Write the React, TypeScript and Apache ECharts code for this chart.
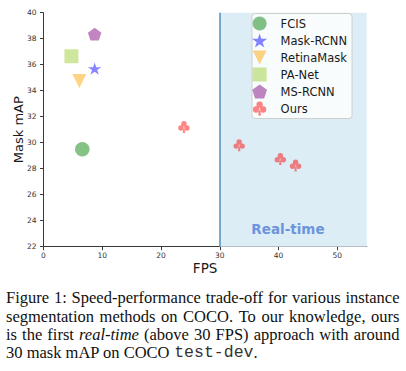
import React, { useEffect, useRef } from 'react';
import * as echarts from 'echarts';

// ---- data ----
const methods = ['FCIS', 'Mask-RCNN', 'RetinaMask', 'PA-Net', 'MS-RCNN', 'Ours'];
const fcisPoints = [[6.6, 29.5]];
const maskRcnnPoints = [[8.7, 35.7]];
const retinaMaskPoints = [[6.1, 34.75]];
const paNetPoints = [[4.75, 36.65]];
const msRcnnPoints = [[8.7, 38.35]];
const oursPoints = [[23.9, 31.2], [33.3, 29.8], [40.3, 28.75], [42.9, 28.25]];
const xTickValues = [0, 10, 20, 30, 40, 50];
const xRange = [0, 55];
const yRange = [22, 40];
const yInterval = 2;
const realTimeThreshold = 30;
const realTimeLabel = 'Real-time';
const realTimeLabelAt = [41.6, 23.4];
const xAxisName = 'FPS';
const yAxisName = 'Mask mAP';

const captionLine1 = ['Figure', '1:', 'Speed-performance', 'trade-off', 'for', 'various', 'instance'];
const captionLine2 = ['segmentation', 'methods', 'on', 'COCO.', 'To', 'our', 'knowledge,', 'ours'];
const captionLine3 = ['is', 'the', 'first', '_real-time', '(above', '30', 'FPS)', 'approach', 'with', 'around'];
const captionLine4 = ['30 mask mAP on COCO ', '`test-dev', '.'];

// ---- symbols ----
const clubPath =
  'path://M30 30 A20 20 0 1 1 70 30 A20 20 0 1 1 30 30 Z M8 60 A20 20 0 1 1 48 60 A20 20 0 1 1 8 60 Z M52 60 A20 20 0 1 1 92 60 A20 20 0 1 1 52 60 Z M46 58 L41 98 L59 98 L54 58 Z';
const starPath =
  'path://M50 0 L61.8 35.1 L100 35.1 L69.1 56.7 L80.9 91.9 L50 70.2 L19.1 91.9 L30.9 56.7 L0 35.1 L38.2 35.1 Z';
const pentagonPath = 'path://M50 0 L100 36.3 L80.9 95.1 L19.1 95.1 L0 36.3 Z';
const triDownPath = 'path://M0 0 L100 0 L50 100 Z';
const squarePath = 'path://M0 0 L100 0 L100 100 L0 100 Z';

const SERIF = "'Liberation Serif', 'Times New Roman', serif";
const MONO = "'Liberation Mono', 'DejaVu Sans Mono', monospace";
const SANS = "'DejaVu Sans', sans-serif";
const CAP_SIZE = 16.5;

function fontFor(word: string) {
  if (word.startsWith('_')) return { text: word.slice(1), font: `italic ${CAP_SIZE}px ${SERIF}`, fill: '#111' };
  if (word.startsWith('`')) return { text: word.slice(1), font: `${CAP_SIZE}px ${MONO}`, fill: '#333' };
  return { text: word, font: `${CAP_SIZE}px ${SERIF}`, fill: '#111' };
}

function buildCaption() {
  const canvas = document.createElement('canvas');
  const ctx = canvas.getContext('2d')!;
  const measure = (t: string, f: string) => {
    ctx.font = f;
    return ctx.measureText(t).width;
  };
  const left = 6;
  const right = 399.5;
  const centers = [297.7, 316.1, 334.4, 352.7];
  const els: any[] = [];
  const justified = [captionLine1, captionLine2, captionLine3];
  justified.forEach((line, li) => {
    const items = line.map(fontFor);
    const widths = items.map((it) => measure(it.text, it.font));
    const total = widths.reduce((a, b) => a + b, 0);
    const gap = (right - left - total) / (items.length - 1);
    let x = left;
    items.forEach((it, i) => {
      els.push({
        type: 'text',
        x,
        y: centers[li],
        silent: true,
        style: { text: it.text, font: it.font, fill: it.fill, verticalAlign: 'middle', align: 'left' },
      });
      x += widths[i] + gap;
    });
  });
  let x = left;
  captionLine4.map(fontFor).forEach((it) => {
    els.push({
      type: 'text',
      x,
      y: centers[3],
      silent: true,
      style: { text: it.text, font: it.font, fill: it.fill, verticalAlign: 'middle', align: 'left' },
    });
    x += measure(it.text, it.font);
  });
  return els;
}

export default function App() {
  const ref = useRef<HTMLDivElement>(null);
  useEffect(() => {
    if (!ref.current) return;
    const chart = echarts.init(ref.current, null, { renderer: 'svg' });
    const axisColor = '#3a3a3a';
    const mk = (name: string, data: number[][], symbol: string, size: number, color: string) => ({
      type: 'scatter',
      name,
      data,
      symbol,
      symbolSize: size,
      symbolKeepAspect: true,
      itemStyle: { color },
      z: 3,
    });
    const option: any = {
      animation: false,
      grid: { left: 43.5, right: 39.3, top: 12.7, bottom: 124.3, outerBoundsMode: 'none', containLabel: false },
      xAxis: {
        type: 'value',
        min: xRange[0],
        max: xRange[1],
        interval: 10,
        name: xAxisName,
        nameLocation: 'middle',
        nameGap: 14.5,
        nameMoveOverlap: false,
        nameTextStyle: { fontFamily: SANS, fontSize: 13.5, color: '#1a1a1a' },
        splitLine: { show: false },
        axisLine: { show: true, lineStyle: { color: axisColor, width: 1 } },
        axisTick: { show: true, length: 3.5, customValues: xTickValues, lineStyle: { color: axisColor } },
        axisLabel: { customValues: xTickValues, fontFamily: SANS, fontSize: 7.5, color: '#333', margin: 4.5 },
      },
      yAxis: {
        type: 'value',
        min: yRange[0],
        max: yRange[1],
        interval: yInterval,
        name: yAxisName,
        nameLocation: 'middle',
        nameGap: 19,
        nameMoveOverlap: false,
        nameTextStyle: { fontFamily: SANS, fontSize: 13, color: '#1a1a1a' },
        splitLine: { show: false },
        axisLine: { show: true, lineStyle: { color: axisColor, width: 1 } },
        axisTick: { show: true, length: 3.5, lineStyle: { color: axisColor } },
        axisLabel: { fontFamily: SANS, fontSize: 7.5, color: '#333', margin: 7 },
      },
      legend: {
        data: methods,
        orient: 'vertical',
        left: 252,
        top: 13.5,
        itemWidth: 32,
        itemHeight: 14,
        itemGap: 3,
        padding: [3, 5, 3, 0],
        backgroundColor: 'rgba(255,255,255,0.8)',
        borderColor: '#cfcfcf',
        borderWidth: 1,
        borderRadius: 3,
        selectedMode: false,
        symbolKeepAspect: true,
        textStyle: { fontFamily: SANS, fontSize: 11.5, color: '#1a1a1a' },
        z: 10,
      },
      series: [
        {
          type: 'scatter',
          name: 'region',
          data: [],
          silent: true,
          z: 1,
          markArea: {
            silent: true,
            itemStyle: { color: '#dcedf5' },
            data: [[{ xAxis: realTimeThreshold, yAxis: yRange[0] }, { xAxis: xRange[1], yAxis: yRange[1] }]],
          },
          markLine: {
            silent: true,
            symbol: 'none',
            label: { show: false },
            lineStyle: { color: '#4f91bb', width: 1.5, type: 'solid' },
            data: [[{ coord: [realTimeThreshold, yRange[0]] }, { coord: [realTimeThreshold, yRange[1]] }]],
          },
          markPoint: {
            silent: true,
            symbol: 'circle',
            symbolSize: 0,
            data: [{ coord: realTimeLabelAt, value: 0 }],
            label: {
              show: true,
              position: 'inside',
              formatter: realTimeLabel,
              fontFamily: SANS,
              fontWeight: 'bold',
              fontSize: 13.5,
              color: '#6b94dc',
            },
          },
        },
        mk('FCIS', fcisPoints, 'circle', 14.5, 'rgba(0,128,0,0.6)'),
        mk('Mask-RCNN', maskRcnnPoints, starPath, 13.5, 'rgba(0,0,255,0.6)'),
        mk('RetinaMask', retinaMaskPoints, triDownPath, 14, 'rgba(255,165,0,0.6)'),
        mk('PA-Net', paNetPoints, squarePath, 14, 'rgba(154,205,50,0.6)'),
        mk('MS-RCNN', msRcnnPoints, pentagonPath, 13.5, 'rgba(128,0,128,0.6)'),
        mk('Ours', oursPoints, clubPath, 12, 'rgba(255,0,0,0.6)'),
      ],
      graphic: buildCaption(),
    };
    chart.setOption(option);
    return () => chart.dispose();
  }, []);
  return (
    <div
      ref={ref}
      style={{ position: 'absolute', left: 0, top: 0, width: 406, height: 371, background: '#fff' }}
    />
  );
}
